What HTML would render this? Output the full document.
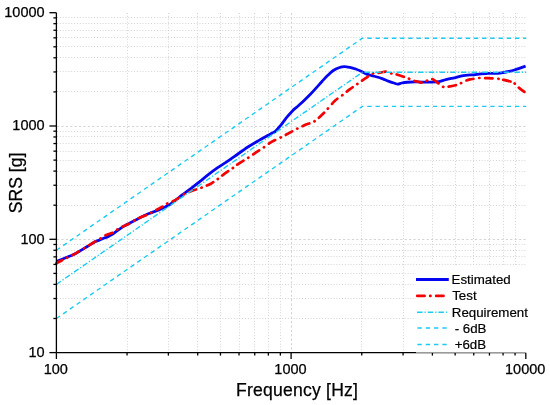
<!DOCTYPE html>
<html><head><meta charset="utf-8"><title>SRS</title>
<style>html,body{margin:0;padding:0;background:#fff;width:550px;height:405px;overflow:hidden}svg{display:block}</style>
</head><body>
<svg width="550" height="405" viewBox="0 0 550 405" font-family="'Liberation Sans', Arial, sans-serif" stroke-linejoin="round"><g stroke="#d4d4d4" stroke-width="1" fill="none"><g stroke-dasharray="1 1.85"><line x1="127.50" y1="13" x2="127.50" y2="352"/><line x1="168.50" y1="13" x2="168.50" y2="352"/><line x1="197.50" y1="13" x2="197.50" y2="352"/><line x1="220.50" y1="13" x2="220.50" y2="352"/><line x1="239.50" y1="13" x2="239.50" y2="352"/><line x1="254.50" y1="13" x2="254.50" y2="352"/><line x1="268.50" y1="13" x2="268.50" y2="352"/><line x1="280.50" y1="13" x2="280.50" y2="352"/><line x1="361.50" y1="13" x2="361.50" y2="352"/><line x1="403.50" y1="13" x2="403.50" y2="352"/><line x1="432.50" y1="13" x2="432.50" y2="352"/><line x1="455.50" y1="13" x2="455.50" y2="352"/><line x1="473.50" y1="13" x2="473.50" y2="352"/><line x1="489.50" y1="13" x2="489.50" y2="352"/><line x1="503.50" y1="13" x2="503.50" y2="352"/><line x1="515.50" y1="13" x2="515.50" y2="352"/><line x1="57" y1="318.50" x2="526" y2="318.50"/><line x1="57" y1="298.50" x2="526" y2="298.50"/><line x1="57" y1="284.50" x2="526" y2="284.50"/><line x1="57" y1="273.50" x2="526" y2="273.50"/><line x1="57" y1="264.50" x2="526" y2="264.50"/><line x1="57" y1="256.50" x2="526" y2="256.50"/><line x1="57" y1="250.50" x2="526" y2="250.50"/><line x1="57" y1="244.50" x2="526" y2="244.50"/><line x1="57" y1="205.50" x2="526" y2="205.50"/><line x1="57" y1="185.50" x2="526" y2="185.50"/><line x1="57" y1="171.50" x2="526" y2="171.50"/><line x1="57" y1="160.50" x2="526" y2="160.50"/><line x1="57" y1="151.50" x2="526" y2="151.50"/><line x1="57" y1="143.50" x2="526" y2="143.50"/><line x1="57" y1="136.50" x2="526" y2="136.50"/><line x1="57" y1="131.50" x2="526" y2="131.50"/><line x1="57" y1="91.50" x2="526" y2="91.50"/><line x1="57" y1="71.50" x2="526" y2="71.50"/><line x1="57" y1="57.50" x2="526" y2="57.50"/><line x1="57" y1="46.50" x2="526" y2="46.50"/><line x1="57" y1="37.50" x2="526" y2="37.50"/><line x1="57" y1="30.50" x2="526" y2="30.50"/><line x1="57" y1="23.50" x2="526" y2="23.50"/><line x1="57" y1="17.50" x2="526" y2="17.50"/></g><g stroke-dasharray="2.2 2.2"><line x1="291.50" y1="13" x2="291.50" y2="352"/><line x1="57" y1="239.50" x2="526" y2="239.50"/><line x1="57" y1="126.50" x2="526" y2="126.50"/></g></g><path d="M56.40,261.49 C57.85,260.91 61.80,259.41 65.10,258.02 C68.40,256.63 72.50,255.08 76.20,253.16 C79.90,251.24 84.17,248.39 87.30,246.50 C90.43,244.61 93.00,242.87 95.00,241.80 C97.00,240.73 97.87,240.68 99.30,240.10 C100.73,239.52 102.15,238.89 103.60,238.31 C105.05,237.73 106.55,237.27 108.00,236.62 C109.45,235.97 110.87,235.32 112.30,234.41 C113.73,233.51 115.17,232.24 116.60,231.18 C118.03,230.12 119.45,229.00 120.90,228.05 C122.35,227.10 123.85,226.28 125.30,225.46 C126.75,224.65 127.60,224.23 129.60,223.17 C131.60,222.12 134.17,220.71 137.30,219.15 C140.43,217.59 144.68,215.40 148.40,213.80 C152.12,212.21 157.17,210.53 159.60,209.58 C162.03,208.62 162.00,208.54 163.00,208.06 C164.00,207.59 164.72,207.18 165.60,206.71 C166.48,206.25 167.38,205.79 168.30,205.27 C169.22,204.75 169.70,204.57 171.10,203.58 C172.50,202.58 174.85,200.72 176.70,199.29 C178.55,197.85 180.35,196.38 182.20,194.97 C184.05,193.55 185.95,192.16 187.80,190.79 C189.65,189.41 191.27,188.29 193.30,186.71 C195.33,185.13 197.45,183.37 200.00,181.32 C202.55,179.28 205.72,176.67 208.60,174.45 C211.48,172.22 214.42,169.98 217.30,167.97 C220.18,165.96 223.02,164.33 225.90,162.39 C228.78,160.45 230.87,158.92 234.60,156.32 C238.33,153.72 244.17,149.47 248.30,146.77 C252.43,144.07 255.68,142.27 259.40,140.12 C263.12,137.97 267.90,135.37 270.60,133.86 C273.30,132.36 273.85,132.59 275.60,131.08 C277.35,129.57 279.25,127.08 281.10,124.81 C282.95,122.53 284.85,119.71 286.70,117.43 C288.55,115.16 290.35,113.04 292.20,111.16 C294.05,109.29 295.95,107.85 297.80,106.19 C299.65,104.52 301.08,103.28 303.30,101.17 C305.52,99.05 308.87,95.79 311.10,93.49 C313.33,91.18 314.85,89.38 316.70,87.33 C318.55,85.28 320.35,83.18 322.20,81.18 C324.05,79.18 325.95,77.10 327.80,75.32 C329.65,73.54 331.45,71.76 333.30,70.50 C335.15,69.23 337.05,68.38 338.90,67.72 C340.75,67.06 342.55,66.61 344.40,66.55 C346.25,66.49 348.13,66.97 350.00,67.39 C351.87,67.80 353.83,68.41 355.60,69.03 C357.37,69.64 358.85,70.29 360.60,71.10 C362.35,71.91 364.25,73.15 366.10,73.90 C367.95,74.65 369.85,75.08 371.70,75.60 C373.55,76.12 375.35,76.45 377.20,77.00 C379.05,77.55 380.95,78.22 382.80,78.90 C384.65,79.58 386.45,80.42 388.30,81.10 C390.15,81.78 392.32,82.50 393.90,83.00 C395.48,83.50 396.50,84.10 397.80,84.10 C399.10,84.10 400.13,83.31 401.70,83.00 C403.27,82.69 404.98,82.43 407.20,82.26 C409.42,82.09 410.83,81.99 415.00,81.97 C419.17,81.94 428.22,82.15 432.20,82.10 C436.18,82.05 437.05,81.93 438.90,81.64 C440.75,81.36 441.63,80.83 443.30,80.37 C444.97,79.91 447.05,79.33 448.90,78.90 C450.75,78.47 452.55,78.23 454.40,77.80 C456.25,77.37 458.13,76.72 460.00,76.30 C461.87,75.88 463.00,75.56 465.60,75.28 C468.20,75.00 473.02,74.85 475.60,74.60 C478.18,74.35 479.25,73.98 481.10,73.80 C482.95,73.62 484.85,73.58 486.70,73.50 C488.55,73.42 490.35,73.33 492.20,73.30 C494.05,73.27 495.95,73.42 497.80,73.30 C499.65,73.18 501.45,72.87 503.30,72.56 C505.15,72.25 507.05,71.86 508.90,71.43 C510.75,71.00 512.55,70.55 514.40,70.00 C516.25,69.45 518.13,68.75 520.00,68.10 C521.87,67.45 524.67,66.43 525.60,66.10" fill="none" stroke="#0505f0" stroke-width="2.8" stroke-linejoin="round"/><path d="M56.40,263.29 C57.85,262.53 61.80,260.42 65.10,258.72 C68.40,257.01 72.50,255.12 76.20,253.06 C79.90,251.01 84.03,248.35 87.30,246.38 C90.57,244.41 93.58,242.58 95.80,241.26 C98.02,239.94 99.08,239.40 100.60,238.45 C102.12,237.50 102.82,236.53 104.90,235.55 C106.98,234.57 111.03,233.56 113.10,232.56 C115.17,231.56 115.85,230.49 117.30,229.56 C118.75,228.63 119.75,227.98 121.80,226.96 C123.85,225.95 127.02,224.83 129.60,223.46 C132.18,222.10 134.17,220.32 137.30,218.77 C140.43,217.22 144.68,215.96 148.40,214.17 C152.12,212.39 157.00,209.46 159.60,208.08 C162.20,206.70 162.73,206.63 164.00,205.88 C165.27,205.13 165.28,204.55 167.20,203.58 C169.12,202.62 172.72,201.62 175.50,200.09 C178.28,198.56 181.02,195.97 183.90,194.39 C186.78,192.81 189.90,191.71 192.80,190.60 C195.70,189.48 198.37,188.83 201.30,187.72 C204.23,186.61 207.67,185.40 210.40,183.96 C213.13,182.51 215.27,180.82 217.70,179.07 C220.13,177.31 222.48,175.23 225.00,173.40 C227.52,171.57 230.57,169.70 232.80,168.10 C235.03,166.50 235.82,165.53 238.40,163.80 C240.98,162.07 245.30,159.63 248.30,157.70 C251.30,155.77 253.80,153.93 256.40,152.20 C259.00,150.47 261.37,149.02 263.90,147.30 C266.43,145.58 268.82,143.53 271.60,141.90 C274.38,140.27 277.70,138.97 280.60,137.50 C283.50,136.03 286.23,134.57 289.00,133.10 C291.77,131.63 294.35,130.12 297.20,128.70 C300.05,127.28 303.23,125.82 306.10,124.60 C308.97,123.38 311.75,123.03 314.40,121.40 C317.05,119.77 319.77,116.92 322.00,114.80 C324.23,112.68 325.60,111.07 327.80,108.70 C330.00,106.33 332.80,102.82 335.20,100.59 C337.60,98.36 339.73,97.21 342.20,95.31 C344.67,93.41 347.50,91.07 350.00,89.20 C352.50,87.33 354.65,85.90 357.20,84.10 C359.75,82.30 362.70,80.19 365.30,78.42 C367.90,76.65 370.72,74.37 372.80,73.48 C374.88,72.59 376.05,73.35 377.80,73.10 C379.55,72.85 381.82,72.22 383.30,72.00 C384.78,71.78 385.40,71.57 386.70,71.80 C388.00,72.03 389.55,72.96 391.10,73.37 C392.65,73.78 393.78,73.66 396.00,74.27 C398.22,74.87 402.25,76.28 404.40,77.00 C406.55,77.72 407.30,77.97 408.90,78.60 C410.50,79.23 412.43,80.28 414.00,80.80 C415.57,81.32 416.93,81.40 418.30,81.70 C419.67,82.00 420.80,82.75 422.20,82.60 C423.60,82.45 425.12,81.42 426.70,80.80 C428.28,80.18 429.67,78.42 431.70,78.90 C433.73,79.38 437.05,82.40 438.90,83.70 C440.75,85.00 441.32,86.20 442.80,86.70 C444.28,87.20 445.67,86.95 447.80,86.70 C449.93,86.45 453.47,85.77 455.60,85.20 C457.73,84.63 458.93,84.03 460.60,83.30 C462.27,82.57 464.03,81.45 465.60,80.80 C467.17,80.15 468.62,79.73 470.00,79.40 C471.38,79.07 472.42,79.03 473.90,78.80 C475.38,78.57 476.55,78.10 478.90,78.00 C481.25,77.90 484.85,78.08 488.00,78.20 C491.15,78.32 495.33,78.45 497.80,78.70 C500.27,78.95 500.58,79.20 502.80,79.70 C505.02,80.20 509.17,81.10 511.10,81.70 C513.03,82.30 513.20,82.38 514.40,83.30 C515.60,84.22 516.63,85.77 518.30,87.20 C519.97,88.63 523.38,91.12 524.40,91.90" fill="none" stroke="#f50000" stroke-width="2.7" stroke-linecap="round" stroke-dasharray="0.00 0.00 6.49 5.65 0.30 5.74 7.30 5.74 0.30 5.91 7.30 5.91 0.30 5.72 7.30 5.72 0.30 5.80 7.30 5.80 0.30 5.57 7.30 5.57 0.30 5.44 7.30 5.44 0.30 5.79 7.30 5.79 0.30 5.64 7.30 5.64 0.30 5.45 7.30 5.45 0.30 5.51 7.30 5.51 0.30 5.49 7.30 5.49 0.30 5.63 7.30 5.63 0.30 5.92 7.30 5.92 0.30 5.59 7.30 5.59 0.30 5.56 7.30 5.56 0.30 5.45 7.30 5.45 0.30 6.08 7.30 6.08 0.30 5.57 7.30 5.57 0.30 5.64 7.30 5.64 0.30 5.59 7.30 5.59 0.30 5.50 7.30 5.50 0.30 5.63 7.30 5.63 0.30 5.77 7.30 5.77 0.30 5.38 7.30 5.38 0.30 5.82 7.30 5.82 0.30 5.66 7.30 5.66 0.30 4.87 7.30 4.87 0.30 5.65 7.30 5.12"/><polyline points="56.40,284.39 362.35,72.29 526.30,72.29" fill="none" stroke="#1ccbf2" stroke-width="1.4" stroke-dasharray="5.5 2 1.2 2"/><polyline points="56.40,318.49 362.35,106.40 526.30,106.40" fill="none" stroke="#1ccbf2" stroke-width="1.4" stroke-dasharray="4.4 3.8"/><polyline points="56.40,250.28 362.35,38.19 526.30,38.19" fill="none" stroke="#1ccbf2" stroke-width="1.4" stroke-dasharray="4.4 3.8"/><g stroke="#000" stroke-width="1.3" fill="none"><line x1="56.4" y1="12.7" x2="56.4" y2="352.6"/><line x1="56.4" y1="352.6" x2="525.80" y2="352.6"/><line x1="56.40" y1="352.6" x2="56.40" y2="359"/><line x1="291.10" y1="352.6" x2="291.10" y2="359"/><line x1="525.80" y1="352.6" x2="525.80" y2="359"/><line x1="127.05" y1="352.6" x2="127.05" y2="355.6"/><line x1="168.38" y1="352.6" x2="168.38" y2="355.6"/><line x1="197.70" y1="352.6" x2="197.70" y2="355.6"/><line x1="220.45" y1="352.6" x2="220.45" y2="355.6"/><line x1="239.03" y1="352.6" x2="239.03" y2="355.6"/><line x1="254.74" y1="352.6" x2="254.74" y2="355.6"/><line x1="268.36" y1="352.6" x2="268.36" y2="355.6"/><line x1="280.36" y1="352.6" x2="280.36" y2="355.6"/><line x1="361.75" y1="352.6" x2="361.75" y2="355.6"/><line x1="403.08" y1="352.6" x2="403.08" y2="355.6"/><line x1="432.40" y1="352.6" x2="432.40" y2="355.6"/><line x1="455.15" y1="352.6" x2="455.15" y2="355.6"/><line x1="473.73" y1="352.6" x2="473.73" y2="355.6"/><line x1="489.44" y1="352.6" x2="489.44" y2="355.6"/><line x1="503.06" y1="352.6" x2="503.06" y2="355.6"/><line x1="515.06" y1="352.6" x2="515.06" y2="355.6"/><line x1="49.4" y1="352.60" x2="56.4" y2="352.60"/><line x1="49.4" y1="239.30" x2="56.4" y2="239.30"/><line x1="49.4" y1="126.00" x2="56.4" y2="126.00"/><line x1="49.4" y1="12.70" x2="56.4" y2="12.70"/><line x1="53.4" y1="318.49" x2="56.4" y2="318.49"/><line x1="53.4" y1="298.54" x2="56.4" y2="298.54"/><line x1="53.4" y1="284.39" x2="56.4" y2="284.39"/><line x1="53.4" y1="273.41" x2="56.4" y2="273.41"/><line x1="53.4" y1="264.44" x2="56.4" y2="264.44"/><line x1="53.4" y1="256.85" x2="56.4" y2="256.85"/><line x1="53.4" y1="250.28" x2="56.4" y2="250.28"/><line x1="53.4" y1="244.48" x2="56.4" y2="244.48"/><line x1="53.4" y1="205.19" x2="56.4" y2="205.19"/><line x1="53.4" y1="185.24" x2="56.4" y2="185.24"/><line x1="53.4" y1="171.09" x2="56.4" y2="171.09"/><line x1="53.4" y1="160.11" x2="56.4" y2="160.11"/><line x1="53.4" y1="151.14" x2="56.4" y2="151.14"/><line x1="53.4" y1="143.55" x2="56.4" y2="143.55"/><line x1="53.4" y1="136.98" x2="56.4" y2="136.98"/><line x1="53.4" y1="131.18" x2="56.4" y2="131.18"/><line x1="53.4" y1="91.89" x2="56.4" y2="91.89"/><line x1="53.4" y1="71.94" x2="56.4" y2="71.94"/><line x1="53.4" y1="57.79" x2="56.4" y2="57.79"/><line x1="53.4" y1="46.81" x2="56.4" y2="46.81"/><line x1="53.4" y1="37.84" x2="56.4" y2="37.84"/><line x1="53.4" y1="30.25" x2="56.4" y2="30.25"/><line x1="53.4" y1="23.68" x2="56.4" y2="23.68"/><line x1="53.4" y1="17.88" x2="56.4" y2="17.88"/></g><rect x="416" y="266" width="134" height="86.6" fill="#fff"/><line x1="416" y1="279.5" x2="448.8" y2="279.5" stroke="#0505f0" stroke-width="3"/><line x1="417.3" y1="295.9" x2="448.8" y2="295.9" stroke="#f50000" stroke-width="2.7" stroke-linecap="round" stroke-dasharray="7.3 5.6 0.3 5.7"/><line x1="417" y1="312.2" x2="448" y2="312.2" stroke="#1ccbf2" stroke-width="1.5" stroke-dasharray="5.5 2 1.2 2"/><line x1="417.4" y1="328" x2="448" y2="328" stroke="#1ccbf2" stroke-width="1.5" stroke-dasharray="4.4 3.9"/><line x1="417.4" y1="344.4" x2="448" y2="344.4" stroke="#1ccbf2" stroke-width="1.5" stroke-dasharray="4.4 3.9"/><g font-size="13.3" fill="#000" stroke="#000" stroke-width="0.2"><text x="451.6" y="283.8">Estimated</text><text x="452.2" y="300">Test</text><text x="451.8" y="316.5">Requirement</text><text x="454.7" y="332.8">- 6dB</text><text x="454.7" y="349">+6dB</text></g><g font-size="14.5" fill="#000" stroke="#000" stroke-width="0.25"><text x="44.6" y="357.00" text-anchor="end">10</text><text x="44.6" y="243.70" text-anchor="end">100</text><text x="44.6" y="130.40" text-anchor="end">1000</text><text x="44.6" y="17.10" text-anchor="end">10000</text><text x="55.80" y="374.4" text-anchor="middle">100</text><text x="290.50" y="374.4" text-anchor="middle">1000</text><text x="525.20" y="374.4" text-anchor="middle">10000</text></g><g stroke="#000" stroke-width="0.25"><text x="297.1" y="395.8" font-size="17.6" letter-spacing="0.2" text-anchor="middle">Frequency [Hz]</text><text transform="translate(22.1,182.9) rotate(-90)" font-size="17.6" text-anchor="middle">SRS [g]</text></g></svg>
</body></html>
